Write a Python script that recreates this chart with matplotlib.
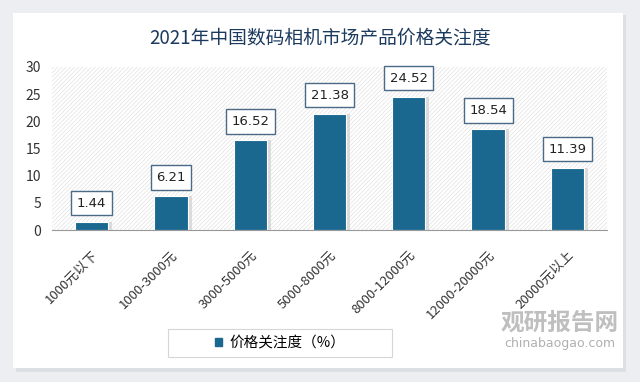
import matplotlib
matplotlib.use("Agg")
import matplotlib.pyplot as plt
from matplotlib.patches import Rectangle
from matplotlib.transforms import ScaledTranslation
import numpy as np

plt.rcParams['font.family'] = ['Noto Sans CJK SC', 'DejaVu Sans']
plt.rcParams['hatch.linewidth'] = 0.5

categories = ['1000元以下', '1000-3000元', '3000-5000元', '5000-8000元',
              '8000-12000元', '12000-20000元', '20000元以上']
values = [1.44, 6.21, 16.52, 21.38, 24.52, 18.54, 11.39]
yticks = [0, 5, 10, 15, 20, 25, 30]
title = '2021年中国数码相机市场产品价格关注度'
legend_label = '价格关注度（%）'

W, H = 640, 382
fig = plt.figure(figsize=(6.4, 3.82), dpi=100)
fig.patch.set_facecolor('#eceef1')

# card with shadow
fig.patches.append(Rectangle((16 / W, 1 - 372 / H), 610 / W, 357 / H, transform=fig.transFigure,
                             facecolor='#dcdfe3', edgecolor='none', zorder=-3))
fig.patches.append(Rectangle((13 / W, 1 - 368 / H), 610 / W, 355 / H, transform=fig.transFigure,
                             facecolor='white', edgecolor='none', zorder=-2))
# legend box
fig.patches.append(Rectangle((168 / W, 1 - 357 / H), 224 / W, 28 / H, transform=fig.transFigure,
                             facecolor='white', edgecolor='#d6d6d6', lw=0.8, zorder=-1))

ax = fig.add_axes([52 / W, 1 - 230 / H, 555 / W, 163 / H])
ax.set_zorder(1)
ax.set_facecolor('white')
ax.add_patch(Rectangle((0, 0), 1, 1, transform=ax.transAxes, facecolor='white',
                       edgecolor='#e2e2e2', hatch='////////', lw=0, zorder=0))

color = '#1a6790'
x = np.arange(len(categories))
# shadows
ax.bar(x + 0.04, values, width=0.44, color='#c9c9c9', alpha=0.6, zorder=1)
ax.bar(x, values, width=0.42, color=color, edgecolor='white', lw=0.8, zorder=2)

for xi, v in zip(x, values):
    ax.annotate(f'{v:.2f}', (xi, v), xytext=(0, 13.5), textcoords='offset points',
                ha='center', va='center', fontsize=9.5, color='#222222',
                family='DejaVu Sans',
                bbox=dict(boxstyle='square,pad=0.42', facecolor='white',
                          edgecolor='#4a6a85', lw=1.0), zorder=3)

ax.set_xlim(-0.5, len(categories) - 0.5)
ax.set_ylim(0, 30)
ax.set_yticks(yticks)
ax.set_yticklabels([str(t) for t in yticks], fontsize=10, color='#333333')
ax.set_xticks(x)
ax.set_xticklabels(categories, rotation=45, ha='right', rotation_mode='anchor',
                   fontsize=9.5, color='#333333')
offset = ScaledTranslation(-10 / 100, 0, fig.dpi_scale_trans)
for lab in ax.get_xticklabels():
    lab.set_transform(lab.get_transform() + offset)
for s in ['top', 'right', 'left']:
    ax.spines[s].set_visible(False)
ax.spines['bottom'].set_color('#999999')
ax.tick_params(axis='y', length=0, pad=8)
ax.tick_params(axis='x', length=0, pad=13)

fig.text(0.5, 1 - 38 / H, title, ha='center', va='center', fontsize=13.5,
         color='#1c3a5e', fontweight='medium')

# legend
fig.legend(handles=[Rectangle((0, 0), 1, 1, color=color)], labels=[legend_label],
           loc='center', bbox_to_anchor=(280 / W, 1 - 343 / H), frameon=False,
           fontsize=10.5, handlelength=0.5, handleheight=0.5, handletextpad=0.5)

# watermark
fig.text(560 / W, 1 - 323 / H, '观研报告网', ha='center', va='center', fontsize=17,
         color='#b8b8b8', fontweight='bold', alpha=0.9)
fig.text(560 / W, 1 - 344 / H, 'chinabaogao.com', ha='center', va='center', fontsize=9,
         color='#b0b0b0', family='DejaVu Sans')

fig.savefig('out.png', dpi=100, facecolor=fig.get_facecolor())
